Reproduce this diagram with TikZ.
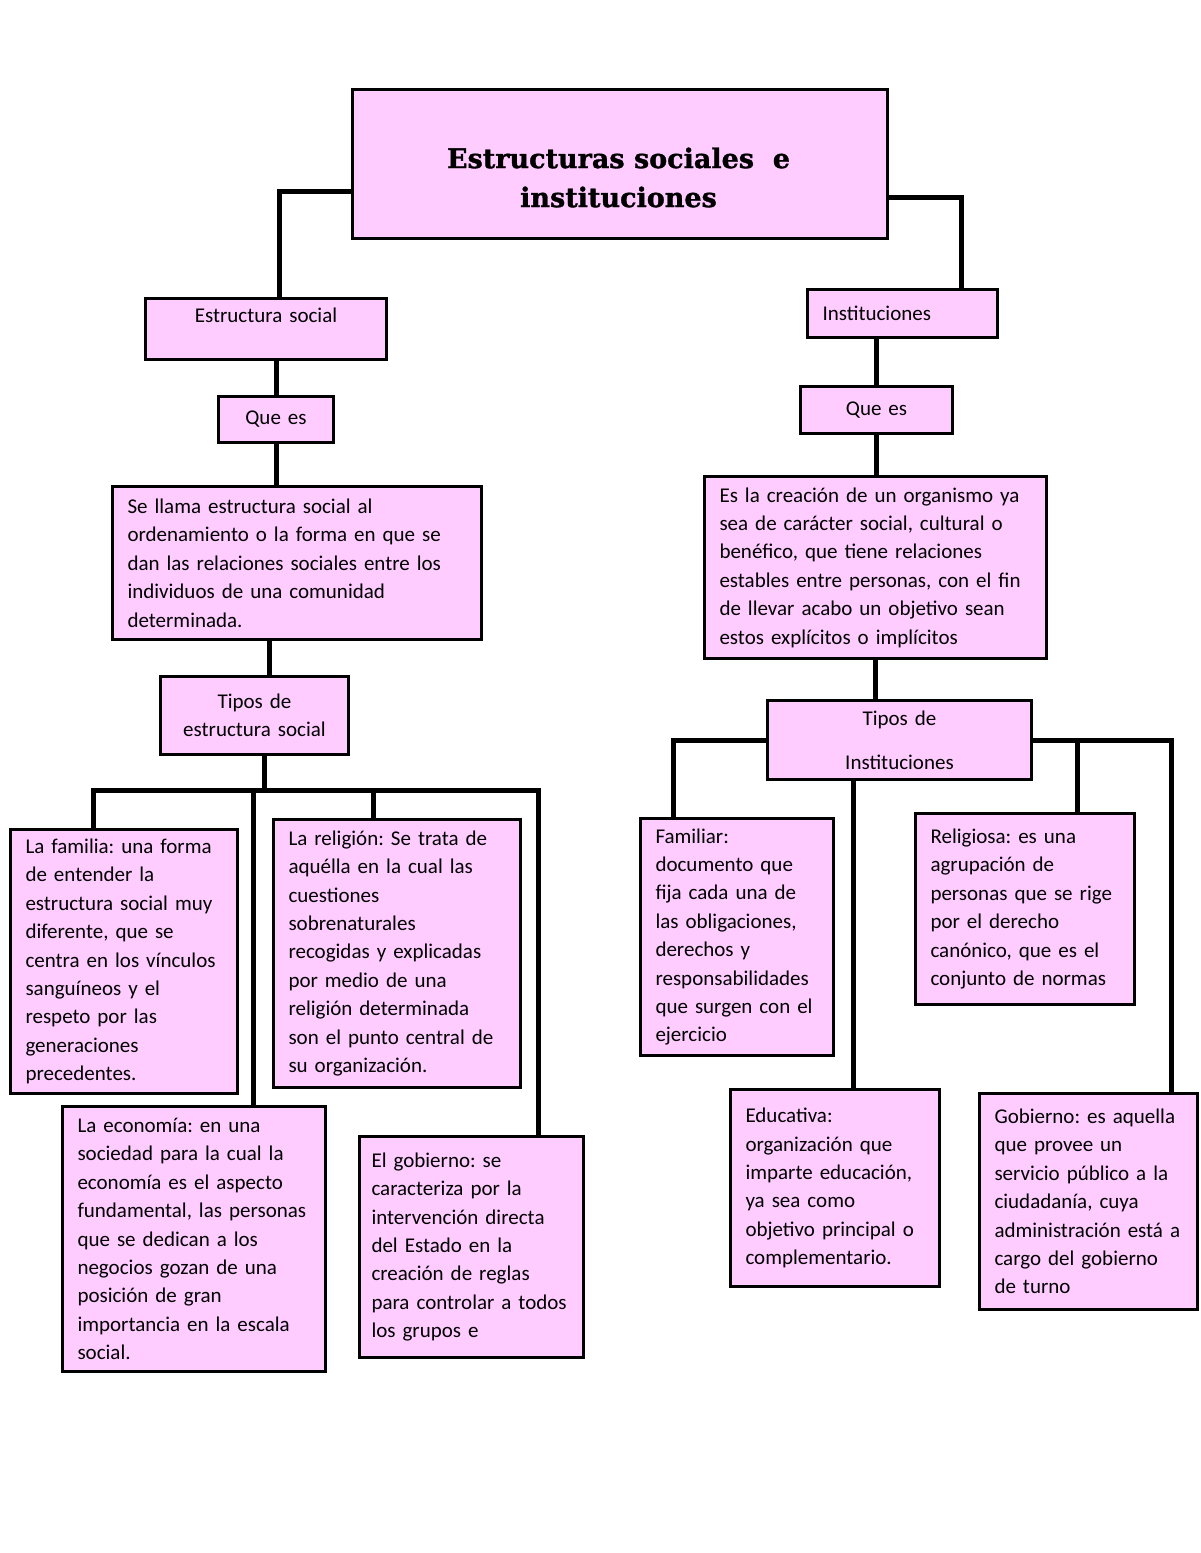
\documentclass[tikz,border=0pt]{standalone}
\usepackage{fontspec}
\setmainfont{Carlito}[WordSpace=0.8]
\newfontfamily\titlefont[FakeBold=1.2]{DejaVu Serif Bold}
\definecolor{boxpink}{RGB}{255,204,255}
\newcommand{\boxfont}{\fontsize{10.5}{14.2}\selectfont}
\hyphenpenalty=10000
\exhyphenpenalty=10000
\frenchspacing

\begin{document}
\begin{tikzpicture}[x=0.5pt,y=-0.5pt,
        box/.style={draw=black, line width=1.5pt, fill=boxpink, anchor=north west,
                inner xsep=7.5pt, inner ysep=0pt, align=left, font=\boxfont},
        boxdim/.style 2 args={minimum width=#1, minimum height=#2, text width=#1-15pt},
        link/.style={line width=2.5pt, line cap=rect}]
        \useasboundingbox (0,0) rectangle (1200,1553);

        % title
        \node[box, boxdim={267.5pt}{74.5pt}] (title) at (351,88) {};
        \node[font=\titlefont\fontsize{13.5}{19.5}\selectfont, align=center] (titletext) at (618.5,177.5)
                {Estructuras sociales\ \ e\\ instituciones};

        % estructura social
        \node[box, boxdim={120.5pt}{30.5pt}, align=center] (es) at (144,297) {Estructura social\\ \mbox{}};
        \node[box, boxdim={57.5pt}{23pt}, align=center] (qe1) at (217,395) {Que es};
        \node[box, boxdim={184.5pt}{76.5pt}] (def1) at (111,485)
                {Se llama estructura social al\\ ordenamiento o la forma en que se\\ dan las relaciones sociales entre los\\ individuos de una comunidad\\ determinada.};
        \node[box, boxdim={94pt}{39pt}, align=center] (tipos1) at (159,675) {Tipos de\\ estructura social};
        \node[box, boxdim={113.5pt}{132pt}] (fam) at (9,828)
                {La familia: una forma\\ de entender la\\ estructura social muy\\ diferente, que se\\ centra en los vínculos\\ sanguíneos y el\\ respeto por las\\ generaciones\\ precedentes.};
        \node[box, boxdim={123.5pt}{134pt}] (rel) at (272,818)
                {La religión: Se trata de\\ aquélla en la cual las\\ cuestiones\\ sobrenaturales\\ recogidas y explicadas\\ por medio de una\\ religión determinada\\ son el punto central de\\ su organización.};
        \node[box, boxdim={131.5pt}{132.5pt}] (eco) at (61,1105)
                {La economía: en una\\ sociedad para la cual la\\ economía es el aspecto\\ fundamental, las personas\\ que se dedican a los\\ negocios gozan de una\\ posición de gran\\ importancia en la escala\\ social.};
        \node[box, boxdim={112pt}{110.5pt}, inner xsep=6pt, text width=100pt] (gob) at (358,1135)
                {El gobierno: se\\ caracteriza por la\\ intervención directa\\ del Estado en la\\ creación de reglas\\ para controlar a todos\\ los grupos e};

        % instituciones
        \node[box, boxdim={95pt}{24pt}] (inst) at (806,288) {Instituciones};
        \node[box, boxdim={76pt}{23.5pt}, align=center] (qe2) at (799,385) {Que es};
        \node[box, boxdim={171pt}{91pt}] (def2) at (703,475)
                {Es la creación de un organismo ya\\ sea de carácter social, cultural o\\ benéfico, que tiene relaciones\\ estables entre personas, con el fin\\ de llevar acabo un objetivo sean\\ estos explícitos o implícitos};
        \node[box, boxdim={132pt}{39.5pt}, align=center] (tipos2) at (766,699) {Tipos de\\[8pt] Instituciones};
        \node[box, boxdim={96.5pt}{118.5pt}] (famI) at (639,817)
                {Familiar:\\ documento que\\ fija cada una de\\ las obligaciones,\\ derechos y\\ responsabilidades\\ que surgen con el\\ ejercicio};
        \node[box, boxdim={109.5pt}{95.5pt}] (relI) at (914,812)
                {Religiosa: es una\\ agrupación de\\ personas que se rige\\ por el derecho\\ canónico, que es el\\ conjunto de normas};
        \node[box, boxdim={104.5pt}{98.5pt}] (edu) at (729,1088)
                {Educativa:\\ organización que\\ imparte educación,\\ ya sea como\\ objetivo principal o\\ complementario.};
        \node[box, boxdim={109pt}{108pt}] (gobI) at (978,1092)
                {Gobierno: es aquella\\ que provee un\\ servicio público a la\\ ciudadanía, cuya\\ administración está a\\ cargo del gobierno\\ de turno};

        % connectors, left
        \coordinate (bus1) at (264,790);
        \draw[link] ([yshift=-13.75pt]title.west) -| ([xshift=6.75pt]es.north);
        \draw[link] (qe1.north) -- (qe1.north |- es.south);
        \draw[link] (qe1.south) -- (qe1.south |- def1.north);
        \draw[link] ([xshift=7.5pt]tipos1.north) -- ([xshift=7.5pt]tipos1.north |- def1.south);
        \draw[link] (bus1) -- (bus1 |- tipos1.south);
        \draw[link] ([xshift=-15.25pt]fam.north) |- (bus1) -| ([xshift=33.5pt]gob.north);
        \draw[link] ([xshift=29.75pt]eco.north) -- ([xshift=29.75pt]eco.north |- bus1);
        \draw[link] ([xshift=-11.75pt]rel.north) -- ([xshift=-11.75pt]rel.north |- bus1);

        % connectors, right
        \draw[link] ([yshift=-16.75pt]title.east) -| ([xshift=29.5pt]inst.north);
        \draw[link] (qe2.north) -- (qe2.north |- inst.south);
        \draw[link] (qe2.south) -- (qe2.south |- def2.north);
        \draw[link] (def2.south) -- (def2.south |- tipos2.north);
        \draw[link] (tipos2.west) -| ([xshift=-31.75pt]famI.north);
        \draw[link] ([xshift=-23pt]tipos2.south) -- ([xshift=-23pt]tipos2.south |- edu.north);
        \draw[link] (tipos2.east) -| ([xshift=41.5pt]gobI.north);
        \draw[link] ([xshift=26.25pt]relI.north) -- ([xshift=26.25pt]relI.north |- tipos2.east);
\end{tikzpicture}
\end{document}
